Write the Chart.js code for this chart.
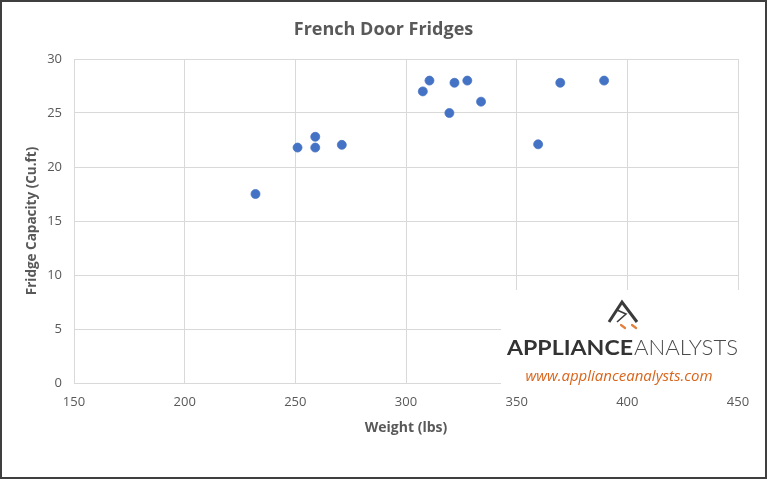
<!DOCTYPE html>
<html>
<head>
<meta charset="utf-8">
<script src="https://cdn.jsdelivr.net/npm/chart.js@4/dist/chart.umd.min.js"></script>
<style>
  body { margin: 0; background: #fff; }
  #wrap { width: 767px; height: 479px; position: relative; }
</style>
</head>
<body>
<div id="wrap"><canvas id="chart" width="767" height="479"></canvas></div>
<script>
// fridge weights (lbs) and capacities (cu.ft)
var weights    = [232, 251, 259, 259, 271, 307.6, 310.6, 319.6, 321.9, 327.7, 333.9, 359.7, 369.7, 389.5];
var capacities = [17.5, 21.8, 21.8, 22.8, 22.05, 27.0, 28.0, 25.0, 27.8, 28.0, 26.05, 22.1, 27.8, 28.0];

var xRange = [150, 450], xStep = 50;
var yRange = [0, 30], yStep = 5;

var titleText = "French Door Fridges";
var xTitle = "Weight (lbs)";
var yTitle = "Fridge Capacity (Cu.ft)";

var txtGray = "#595959";
var gridGray = "#d9d9d9";
var dotBlue = "#4472C4";
var uiFont = "'Open Sans', 'Noto Sans', sans-serif";

var points = weights.map(function(w, i) { return {x: w, y: capacities[i]}; });

// white frame + border behind, logo box on top
var frame = {
  id: "frame",
  beforeDraw: function(chart) {
    var c = chart.ctx;
    c.save();
    c.fillStyle = "#fff";
    c.fillRect(0, 0, chart.width, chart.height);
    c.restore();
  },
  afterDraw: function(chart) {
    var c = chart.ctx;
    c.save();
    // logo panel
    c.fillStyle = "#fff";
    c.fillRect(501, 290, 245, 96);

    // mountain / A mark
    c.strokeStyle = "#3b3b3b";
    c.lineWidth = 3;
    c.lineJoin = "miter";
    c.beginPath();
    c.moveTo(609, 322);
    c.lineTo(622, 302);
    c.lineTo(637, 322);
    c.stroke();
    c.lineWidth = 1.6;
    c.beginPath();
    c.moveTo(617, 310);
    c.lineTo(626, 314);
    c.lineTo(617, 322);
    c.stroke();
    // orange ticks
    c.strokeStyle = "#E2803C";
    c.lineWidth = 2.2;
    c.lineCap = "round";
    c.beginPath();
    c.moveTo(621, 325); c.lineTo(625, 328);
    c.moveTo(632, 325); c.lineTo(636, 328);
    c.stroke();

    // wordmark
    c.textBaseline = "alphabetic";
    c.textAlign = "left";
    var a = "APPLIANCE", b = "ANALYSTS";
    c.font = "700 21px 'Lato', 'Open Sans', sans-serif";
    var wa = c.measureText(a).width;
    c.save();
    c.translate(507, 355);
    c.scale(126 / wa, 1);
    c.fillStyle = "#333333";
    c.fillText(a, 0, 0);
    c.restore();
    c.font = "300 21px 'Lato', 'Open Sans', sans-serif";
    var wb = c.measureText(b).width;
    c.save();
    c.translate(634, 355);
    c.scale(104 / wb, 1);
    c.fillStyle = "#4a4a4a";
    c.fillText(b, 0, 0);
    c.restore();

    // url
    c.font = "italic 15px 'Open Sans', sans-serif";
    c.fillStyle = "#D9651C";
    c.textAlign = "center";
    c.fillText("www.applianceanalysts.com", 619, 381);

    // outer border
    c.strokeStyle = "#3f3f3f";
    c.lineWidth = 2;
    c.strokeRect(1, 1, chart.width - 2, chart.height - 2);
    c.restore();
  }
};

new Chart(document.getElementById("chart"), {
  type: "scatter",
  data: {
    datasets: [{
      data: points,
      backgroundColor: dotBlue,
      borderColor: dotBlue,
      borderWidth: 0.75,
      pointRadius: 4.5,
      pointHoverRadius: 4.5
    }]
  },
  options: {
    responsive: false,
    animation: false,
    layout: { padding: 0 },
    plugins: {
      legend: { display: false },
      tooltip: { enabled: false },
      title: {
        display: true,
        text: titleText,
        color: txtGray,
        font: { family: uiFont, size: 18, weight: "bold" },
        padding: { top: 19, bottom: 18.4 }
      }
    },
    scales: {
      x: {
        type: "linear",
        min: xRange[0], max: xRange[1],
        afterFit: function(s) { s.height = 96; },
        ticks: { stepSize: xStep, color: txtGray, padding: 11, font: { family: uiFont, size: 13 } },
        grid: { color: gridGray, drawTicks: false },
        border: { display: false },
        title: {
          display: true, text: xTitle, color: txtGray,
          font: { family: uiFont, size: 14, weight: "bold" },
          padding: { top: 0, bottom: 43 }
        }
      },
      y: {
        min: yRange[0], max: yRange[1],
        afterFit: function(s) { s.width = 74; },
        ticks: { stepSize: yStep, color: txtGray, padding: 12, font: { family: uiFont, size: 13 } },
        grid: { color: gridGray, drawTicks: false },
        border: { display: false },
        title: {
          display: true, text: yTitle, color: txtGray,
          font: { family: uiFont, size: 13.5, weight: "bold" },
          padding: { top: 24, bottom: 0 }
        }
      },
      // empty right-hand margin so the title centres on the whole frame
      yRight: {
        position: "right",
        min: yRange[0], max: yRange[1],
        afterFit: function(s) { s.width = 29; },
        ticks: { display: false },
        grid: { display: false, drawTicks: false },
        border: { display: false }
      }
    }
  },
  plugins: [frame]
});
</script>
</body>
</html>
